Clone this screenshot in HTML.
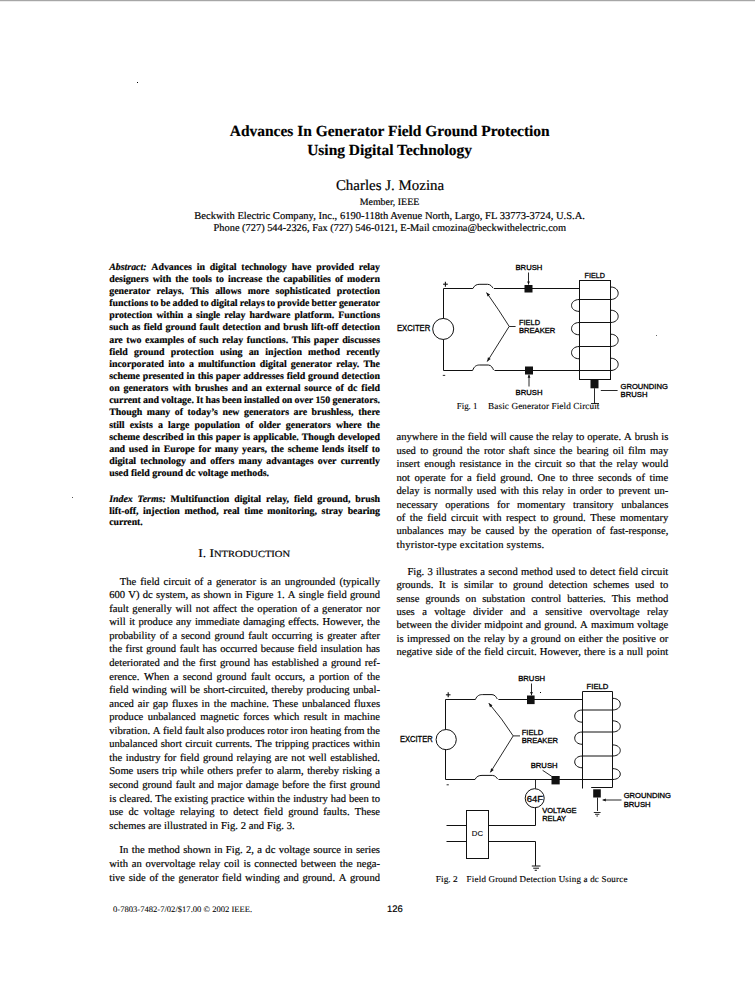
<!DOCTYPE html>
<html><head><meta charset="utf-8"><title>Advances In Generator Field Ground Protection</title>
<style>
html,body{margin:0;padding:0;background:#fff;}
body{width:755px;height:1000px;overflow:hidden;position:relative;}
svg{position:absolute;left:0;top:0;}
</style></head><body>
<svg width="755" height="1000" viewBox="0 0 755 1000">
<rect x="0" y="0" width="755" height="1000" fill="#fff"/>
<g fill="#000" stroke="#000" stroke-width="0.18" style="text-rendering:geometricPrecision">
<rect x="0" y="0" width="755" height="1" fill="#a6a6a6" stroke="none"/><rect x="0" y="1" width="755" height="0.5" fill="#d8d8d8" stroke="none"/>
<text x="229.80" y="135.90" style="font-family:&quot;Liberation Serif&quot;,serif;font-size:15.4px;font-weight:bold" textLength="319.90" lengthAdjust="spacingAndGlyphs">Advances In Generator Field Ground Protection</text>
<text x="307.20" y="154.70" style="font-family:&quot;Liberation Serif&quot;,serif;font-size:15.4px;font-weight:bold" textLength="164.80" lengthAdjust="spacingAndGlyphs">Using Digital Technology</text>
<text x="335.90" y="189.90" style="font-family:&quot;Liberation Serif&quot;,serif;font-size:14.9px" textLength="108.30" lengthAdjust="spacingAndGlyphs">Charles J. Mozina</text>
<text x="359.70" y="204.80" style="font-family:&quot;Liberation Serif&quot;,serif;font-size:9.9px" textLength="59.60" lengthAdjust="spacingAndGlyphs">Member, IEEE</text>
<text x="194.30" y="219.00" style="font-family:&quot;Liberation Serif&quot;,serif;font-size:10.5px" textLength="390.70" lengthAdjust="spacingAndGlyphs">Beckwith Electric Company, Inc., 6190-118th Avenue North, Largo, FL 33773-3724, U.S.A.</text>
<text x="213.60" y="231.20" style="font-family:&quot;Liberation Serif&quot;,serif;font-size:10.4px" textLength="352.40" lengthAdjust="spacingAndGlyphs">Phone (727) 544-2326, Fax (727) 546-0121, E-Mail cmozina@beckwithelectric.com</text>
<text x="109.20" y="269.70" style="font-family:&quot;Liberation Serif&quot;,serif;font-size:9.9px;font-weight:bold;font-style:italic">Abstract:</text>
<text x="151.32" y="269.70" style="font-family:&quot;Liberation Serif&quot;,serif;font-size:9.9px;font-weight:bold">Advances</text>
<text x="196.73" y="269.70" style="font-family:&quot;Liberation Serif&quot;,serif;font-size:9.9px;font-weight:bold">in</text>
<text x="209.70" y="269.70" style="font-family:&quot;Liberation Serif&quot;,serif;font-size:9.9px;font-weight:bold">digital</text>
<text x="241.37" y="269.70" style="font-family:&quot;Liberation Serif&quot;,serif;font-size:9.9px;font-weight:bold">technology</text>
<text x="291.73" y="269.70" style="font-family:&quot;Liberation Serif&quot;,serif;font-size:9.9px;font-weight:bold">have</text>
<text x="316.25" y="269.70" style="font-family:&quot;Liberation Serif&quot;,serif;font-size:9.9px;font-weight:bold">provided</text>
<text x="380.00" y="269.70" style="font-family:&quot;Liberation Serif&quot;,serif;font-size:9.9px;font-weight:bold" text-anchor="end">relay</text>
<text x="109.20" y="281.84" style="font-family:&quot;Liberation Serif&quot;,serif;font-size:9.9px;font-weight:bold">designers</text>
<text x="152.63" y="281.84" style="font-family:&quot;Liberation Serif&quot;,serif;font-size:9.9px;font-weight:bold">with</text>
<text x="175.17" y="281.84" style="font-family:&quot;Liberation Serif&quot;,serif;font-size:9.9px;font-weight:bold">the</text>
<text x="192.20" y="281.84" style="font-family:&quot;Liberation Serif&quot;,serif;font-size:9.9px;font-weight:bold">tools</text>
<text x="215.84" y="281.84" style="font-family:&quot;Liberation Serif&quot;,serif;font-size:9.9px;font-weight:bold">to</text>
<text x="227.92" y="281.84" style="font-family:&quot;Liberation Serif&quot;,serif;font-size:9.9px;font-weight:bold">increase</text>
<text x="266.21" y="281.84" style="font-family:&quot;Liberation Serif&quot;,serif;font-size:9.9px;font-weight:bold">the</text>
<text x="283.24" y="281.84" style="font-family:&quot;Liberation Serif&quot;,serif;font-size:9.9px;font-weight:bold">capabilities</text>
<text x="334.92" y="281.84" style="font-family:&quot;Liberation Serif&quot;,serif;font-size:9.9px;font-weight:bold">of</text>
<text x="380.00" y="281.84" style="font-family:&quot;Liberation Serif&quot;,serif;font-size:9.9px;font-weight:bold" text-anchor="end">modern</text>
<text x="109.20" y="293.98" style="font-family:&quot;Liberation Serif&quot;,serif;font-size:9.9px;font-weight:bold">generator</text>
<text x="156.56" y="293.98" style="font-family:&quot;Liberation Serif&quot;,serif;font-size:9.9px;font-weight:bold">relays.</text>
<text x="190.28" y="293.98" style="font-family:&quot;Liberation Serif&quot;,serif;font-size:9.9px;font-weight:bold">This</text>
<text x="215.13" y="293.98" style="font-family:&quot;Liberation Serif&quot;,serif;font-size:9.9px;font-weight:bold">allows</text>
<text x="247.66" y="293.98" style="font-family:&quot;Liberation Serif&quot;,serif;font-size:9.9px;font-weight:bold">more</text>
<text x="275.60" y="293.98" style="font-family:&quot;Liberation Serif&quot;,serif;font-size:9.9px;font-weight:bold">sophisticated</text>
<text x="380.00" y="293.98" style="font-family:&quot;Liberation Serif&quot;,serif;font-size:9.9px;font-weight:bold" text-anchor="end">protection</text>
<text x="109.20" y="306.12" style="font-family:&quot;Liberation Serif&quot;,serif;font-size:9.9px;font-weight:bold">functions</text>
<text x="150.30" y="306.12" style="font-family:&quot;Liberation Serif&quot;,serif;font-size:9.9px;font-weight:bold">to</text>
<text x="160.58" y="306.12" style="font-family:&quot;Liberation Serif&quot;,serif;font-size:9.9px;font-weight:bold">be</text>
<text x="172.52" y="306.12" style="font-family:&quot;Liberation Serif&quot;,serif;font-size:9.9px;font-weight:bold">added</text>
<text x="200.42" y="306.12" style="font-family:&quot;Liberation Serif&quot;,serif;font-size:9.9px;font-weight:bold">to</text>
<text x="210.71" y="306.12" style="font-family:&quot;Liberation Serif&quot;,serif;font-size:9.9px;font-weight:bold">digital</text>
<text x="239.70" y="306.12" style="font-family:&quot;Liberation Serif&quot;,serif;font-size:9.9px;font-weight:bold">relays</text>
<text x="266.85" y="306.12" style="font-family:&quot;Liberation Serif&quot;,serif;font-size:9.9px;font-weight:bold">to</text>
<text x="277.14" y="306.12" style="font-family:&quot;Liberation Serif&quot;,serif;font-size:9.9px;font-weight:bold">provide</text>
<text x="311.45" y="306.12" style="font-family:&quot;Liberation Serif&quot;,serif;font-size:9.9px;font-weight:bold">better</text>
<text x="380.00" y="306.12" style="font-family:&quot;Liberation Serif&quot;,serif;font-size:9.9px;font-weight:bold" text-anchor="end">generator</text>
<text x="109.20" y="318.26" style="font-family:&quot;Liberation Serif&quot;,serif;font-size:9.9px;font-weight:bold">protection</text>
<text x="156.38" y="318.26" style="font-family:&quot;Liberation Serif&quot;,serif;font-size:9.9px;font-weight:bold">within</text>
<text x="187.26" y="318.26" style="font-family:&quot;Liberation Serif&quot;,serif;font-size:9.9px;font-weight:bold">a</text>
<text x="196.12" y="318.26" style="font-family:&quot;Liberation Serif&quot;,serif;font-size:9.9px;font-weight:bold">single</text>
<text x="224.25" y="318.26" style="font-family:&quot;Liberation Serif&quot;,serif;font-size:9.9px;font-weight:bold">relay</text>
<text x="249.42" y="318.26" style="font-family:&quot;Liberation Serif&quot;,serif;font-size:9.9px;font-weight:bold">hardware</text>
<text x="294.41" y="318.26" style="font-family:&quot;Liberation Serif&quot;,serif;font-size:9.9px;font-weight:bold">platform.</text>
<text x="380.00" y="318.26" style="font-family:&quot;Liberation Serif&quot;,serif;font-size:9.9px;font-weight:bold" text-anchor="end">Functions</text>
<text x="109.20" y="330.40" style="font-family:&quot;Liberation Serif&quot;,serif;font-size:9.9px;font-weight:bold">such</text>
<text x="131.68" y="330.40" style="font-family:&quot;Liberation Serif&quot;,serif;font-size:9.9px;font-weight:bold">as</text>
<text x="143.70" y="330.40" style="font-family:&quot;Liberation Serif&quot;,serif;font-size:9.9px;font-weight:bold">field</text>
<text x="165.62" y="330.40" style="font-family:&quot;Liberation Serif&quot;,serif;font-size:9.9px;font-weight:bold">ground</text>
<text x="199.47" y="330.40" style="font-family:&quot;Liberation Serif&quot;,serif;font-size:9.9px;font-weight:bold">fault</text>
<text x="222.49" y="330.40" style="font-family:&quot;Liberation Serif&quot;,serif;font-size:9.9px;font-weight:bold">detection</text>
<text x="264.19" y="330.40" style="font-family:&quot;Liberation Serif&quot;,serif;font-size:9.9px;font-weight:bold">and</text>
<text x="283.37" y="330.40" style="font-family:&quot;Liberation Serif&quot;,serif;font-size:9.9px;font-weight:bold">brush</text>
<text x="311.36" y="330.40" style="font-family:&quot;Liberation Serif&quot;,serif;font-size:9.9px;font-weight:bold">lift-off</text>
<text x="380.00" y="330.40" style="font-family:&quot;Liberation Serif&quot;,serif;font-size:9.9px;font-weight:bold" text-anchor="end">detection</text>
<text x="109.20" y="342.54" style="font-family:&quot;Liberation Serif&quot;,serif;font-size:9.9px;font-weight:bold">are</text>
<text x="126.21" y="342.54" style="font-family:&quot;Liberation Serif&quot;,serif;font-size:9.9px;font-weight:bold">two</text>
<text x="145.06" y="342.54" style="font-family:&quot;Liberation Serif&quot;,serif;font-size:9.9px;font-weight:bold">examples</text>
<text x="187.56" y="342.54" style="font-family:&quot;Liberation Serif&quot;,serif;font-size:9.9px;font-weight:bold">of</text>
<text x="199.26" y="342.54" style="font-family:&quot;Liberation Serif&quot;,serif;font-size:9.9px;font-weight:bold">such</text>
<text x="221.97" y="342.54" style="font-family:&quot;Liberation Serif&quot;,serif;font-size:9.9px;font-weight:bold">relay</text>
<text x="246.68" y="342.54" style="font-family:&quot;Liberation Serif&quot;,serif;font-size:9.9px;font-weight:bold">functions.</text>
<text x="291.67" y="342.54" style="font-family:&quot;Liberation Serif&quot;,serif;font-size:9.9px;font-weight:bold">This</text>
<text x="313.84" y="342.54" style="font-family:&quot;Liberation Serif&quot;,serif;font-size:9.9px;font-weight:bold">paper</text>
<text x="380.00" y="342.54" style="font-family:&quot;Liberation Serif&quot;,serif;font-size:9.9px;font-weight:bold" text-anchor="end">discusses</text>
<text x="109.20" y="354.68" style="font-family:&quot;Liberation Serif&quot;,serif;font-size:9.9px;font-weight:bold">field</text>
<text x="133.98" y="354.68" style="font-family:&quot;Liberation Serif&quot;,serif;font-size:9.9px;font-weight:bold">ground</text>
<text x="170.69" y="354.68" style="font-family:&quot;Liberation Serif&quot;,serif;font-size:9.9px;font-weight:bold">protection</text>
<text x="220.02" y="354.68" style="font-family:&quot;Liberation Serif&quot;,serif;font-size:9.9px;font-weight:bold">using</text>
<text x="248.67" y="354.68" style="font-family:&quot;Liberation Serif&quot;,serif;font-size:9.9px;font-weight:bold">an</text>
<text x="265.20" y="354.68" style="font-family:&quot;Liberation Serif&quot;,serif;font-size:9.9px;font-weight:bold">injection</text>
<text x="308.12" y="354.68" style="font-family:&quot;Liberation Serif&quot;,serif;font-size:9.9px;font-weight:bold">method</text>
<text x="380.00" y="354.68" style="font-family:&quot;Liberation Serif&quot;,serif;font-size:9.9px;font-weight:bold" text-anchor="end">recently</text>
<text x="109.20" y="366.82" style="font-family:&quot;Liberation Serif&quot;,serif;font-size:9.9px;font-weight:bold">incorporated</text>
<text x="168.29" y="366.82" style="font-family:&quot;Liberation Serif&quot;,serif;font-size:9.9px;font-weight:bold">into</text>
<text x="188.90" y="366.82" style="font-family:&quot;Liberation Serif&quot;,serif;font-size:9.9px;font-weight:bold">a</text>
<text x="197.95" y="366.82" style="font-family:&quot;Liberation Serif&quot;,serif;font-size:9.9px;font-weight:bold">multifunction</text>
<text x="259.81" y="366.82" style="font-family:&quot;Liberation Serif&quot;,serif;font-size:9.9px;font-weight:bold">digital</text>
<text x="290.87" y="366.82" style="font-family:&quot;Liberation Serif&quot;,serif;font-size:9.9px;font-weight:bold">generator</text>
<text x="336.20" y="366.82" style="font-family:&quot;Liberation Serif&quot;,serif;font-size:9.9px;font-weight:bold">relay.</text>
<text x="380.00" y="366.82" style="font-family:&quot;Liberation Serif&quot;,serif;font-size:9.9px;font-weight:bold" text-anchor="end">The</text>
<text x="109.20" y="378.96" style="font-family:&quot;Liberation Serif&quot;,serif;font-size:9.9px;font-weight:bold">scheme</text>
<text x="142.76" y="378.96" style="font-family:&quot;Liberation Serif&quot;,serif;font-size:9.9px;font-weight:bold">presented</text>
<text x="186.60" y="378.96" style="font-family:&quot;Liberation Serif&quot;,serif;font-size:9.9px;font-weight:bold">in</text>
<text x="197.63" y="378.96" style="font-family:&quot;Liberation Serif&quot;,serif;font-size:9.9px;font-weight:bold">this</text>
<text x="215.81" y="378.96" style="font-family:&quot;Liberation Serif&quot;,serif;font-size:9.9px;font-weight:bold">paper</text>
<text x="243.34" y="378.96" style="font-family:&quot;Liberation Serif&quot;,serif;font-size:9.9px;font-weight:bold">addresses</text>
<text x="286.63" y="378.96" style="font-family:&quot;Liberation Serif&quot;,serif;font-size:9.9px;font-weight:bold">field</text>
<text x="308.10" y="378.96" style="font-family:&quot;Liberation Serif&quot;,serif;font-size:9.9px;font-weight:bold">ground</text>
<text x="380.00" y="378.96" style="font-family:&quot;Liberation Serif&quot;,serif;font-size:9.9px;font-weight:bold" text-anchor="end">detection</text>
<text x="109.20" y="391.10" style="font-family:&quot;Liberation Serif&quot;,serif;font-size:9.9px;font-weight:bold">on</text>
<text x="123.49" y="391.10" style="font-family:&quot;Liberation Serif&quot;,serif;font-size:9.9px;font-weight:bold">generators</text>
<text x="172.41" y="391.10" style="font-family:&quot;Liberation Serif&quot;,serif;font-size:9.9px;font-weight:bold">with</text>
<text x="194.94" y="391.10" style="font-family:&quot;Liberation Serif&quot;,serif;font-size:9.9px;font-weight:bold">brushes</text>
<text x="231.79" y="391.10" style="font-family:&quot;Liberation Serif&quot;,serif;font-size:9.9px;font-weight:bold">and</text>
<text x="251.58" y="391.10" style="font-family:&quot;Liberation Serif&quot;,serif;font-size:9.9px;font-weight:bold">an</text>
<text x="265.87" y="391.10" style="font-family:&quot;Liberation Serif&quot;,serif;font-size:9.9px;font-weight:bold">external</text>
<text x="304.34" y="391.10" style="font-family:&quot;Liberation Serif&quot;,serif;font-size:9.9px;font-weight:bold">source</text>
<text x="335.49" y="391.10" style="font-family:&quot;Liberation Serif&quot;,serif;font-size:9.9px;font-weight:bold">of</text>
<text x="347.57" y="391.10" style="font-family:&quot;Liberation Serif&quot;,serif;font-size:9.9px;font-weight:bold">dc</text>
<text x="380.00" y="391.10" style="font-family:&quot;Liberation Serif&quot;,serif;font-size:9.9px;font-weight:bold" text-anchor="end">field</text>
<text x="109.20" y="403.24" style="font-family:&quot;Liberation Serif&quot;,serif;font-size:9.9px;font-weight:bold">current</text>
<text x="143.09" y="403.24" style="font-family:&quot;Liberation Serif&quot;,serif;font-size:9.9px;font-weight:bold">and</text>
<text x="161.24" y="403.24" style="font-family:&quot;Liberation Serif&quot;,serif;font-size:9.9px;font-weight:bold">voltage.</text>
<text x="196.14" y="403.24" style="font-family:&quot;Liberation Serif&quot;,serif;font-size:9.9px;font-weight:bold">It</text>
<text x="205.47" y="403.24" style="font-family:&quot;Liberation Serif&quot;,serif;font-size:9.9px;font-weight:bold">has</text>
<text x="221.97" y="403.24" style="font-family:&quot;Liberation Serif&quot;,serif;font-size:9.9px;font-weight:bold">been</text>
<text x="243.95" y="403.24" style="font-family:&quot;Liberation Serif&quot;,serif;font-size:9.9px;font-weight:bold">installed</text>
<text x="281.89" y="403.24" style="font-family:&quot;Liberation Serif&quot;,serif;font-size:9.9px;font-weight:bold">on</text>
<text x="294.54" y="403.24" style="font-family:&quot;Liberation Serif&quot;,serif;font-size:9.9px;font-weight:bold">over</text>
<text x="315.41" y="403.24" style="font-family:&quot;Liberation Serif&quot;,serif;font-size:9.9px;font-weight:bold">150</text>
<text x="380.00" y="403.24" style="font-family:&quot;Liberation Serif&quot;,serif;font-size:9.9px;font-weight:bold" text-anchor="end">generators.</text>
<text x="109.20" y="415.38" style="font-family:&quot;Liberation Serif&quot;,serif;font-size:9.9px;font-weight:bold">Though</text>
<text x="146.70" y="415.38" style="font-family:&quot;Liberation Serif&quot;,serif;font-size:9.9px;font-weight:bold">many</text>
<text x="174.84" y="415.38" style="font-family:&quot;Liberation Serif&quot;,serif;font-size:9.9px;font-weight:bold">of</text>
<text x="187.57" y="415.38" style="font-family:&quot;Liberation Serif&quot;,serif;font-size:9.9px;font-weight:bold">today’s</text>
<text x="222.48" y="415.38" style="font-family:&quot;Liberation Serif&quot;,serif;font-size:9.9px;font-weight:bold">new</text>
<text x="244.02" y="415.38" style="font-family:&quot;Liberation Serif&quot;,serif;font-size:9.9px;font-weight:bold">generators</text>
<text x="293.58" y="415.38" style="font-family:&quot;Liberation Serif&quot;,serif;font-size:9.9px;font-weight:bold">are</text>
<text x="311.62" y="415.38" style="font-family:&quot;Liberation Serif&quot;,serif;font-size:9.9px;font-weight:bold">brushless,</text>
<text x="380.00" y="415.38" style="font-family:&quot;Liberation Serif&quot;,serif;font-size:9.9px;font-weight:bold" text-anchor="end">there</text>
<text x="109.20" y="427.52" style="font-family:&quot;Liberation Serif&quot;,serif;font-size:9.9px;font-weight:bold">still</text>
<text x="129.72" y="427.52" style="font-family:&quot;Liberation Serif&quot;,serif;font-size:9.9px;font-weight:bold">exists</text>
<text x="157.93" y="427.52" style="font-family:&quot;Liberation Serif&quot;,serif;font-size:9.9px;font-weight:bold">a</text>
<text x="168.00" y="427.52" style="font-family:&quot;Liberation Serif&quot;,serif;font-size:9.9px;font-weight:bold">large</text>
<text x="194.56" y="427.52" style="font-family:&quot;Liberation Serif&quot;,serif;font-size:9.9px;font-weight:bold">population</text>
<text x="245.35" y="427.52" style="font-family:&quot;Liberation Serif&quot;,serif;font-size:9.9px;font-weight:bold">of</text>
<text x="258.71" y="427.52" style="font-family:&quot;Liberation Serif&quot;,serif;font-size:9.9px;font-weight:bold">older</text>
<text x="285.83" y="427.52" style="font-family:&quot;Liberation Serif&quot;,serif;font-size:9.9px;font-weight:bold">generators</text>
<text x="336.03" y="427.52" style="font-family:&quot;Liberation Serif&quot;,serif;font-size:9.9px;font-weight:bold">where</text>
<text x="380.00" y="427.52" style="font-family:&quot;Liberation Serif&quot;,serif;font-size:9.9px;font-weight:bold" text-anchor="end">the</text>
<text x="109.20" y="439.66" style="font-family:&quot;Liberation Serif&quot;,serif;font-size:9.9px;font-weight:bold">scheme</text>
<text x="142.86" y="439.66" style="font-family:&quot;Liberation Serif&quot;,serif;font-size:9.9px;font-weight:bold">described</text>
<text x="186.43" y="439.66" style="font-family:&quot;Liberation Serif&quot;,serif;font-size:9.9px;font-weight:bold">in</text>
<text x="197.56" y="439.66" style="font-family:&quot;Liberation Serif&quot;,serif;font-size:9.9px;font-weight:bold">this</text>
<text x="215.84" y="439.66" style="font-family:&quot;Liberation Serif&quot;,serif;font-size:9.9px;font-weight:bold">paper</text>
<text x="243.47" y="439.66" style="font-family:&quot;Liberation Serif&quot;,serif;font-size:9.9px;font-weight:bold">is</text>
<text x="252.95" y="439.66" style="font-family:&quot;Liberation Serif&quot;,serif;font-size:9.9px;font-weight:bold">applicable.</text>
<text x="301.75" y="439.66" style="font-family:&quot;Liberation Serif&quot;,serif;font-size:9.9px;font-weight:bold">Though</text>
<text x="380.00" y="439.66" style="font-family:&quot;Liberation Serif&quot;,serif;font-size:9.9px;font-weight:bold" text-anchor="end">developed</text>
<text x="109.20" y="451.80" style="font-family:&quot;Liberation Serif&quot;,serif;font-size:9.9px;font-weight:bold">and</text>
<text x="128.82" y="451.80" style="font-family:&quot;Liberation Serif&quot;,serif;font-size:9.9px;font-weight:bold">used</text>
<text x="151.74" y="451.80" style="font-family:&quot;Liberation Serif&quot;,serif;font-size:9.9px;font-weight:bold">in</text>
<text x="163.66" y="451.80" style="font-family:&quot;Liberation Serif&quot;,serif;font-size:9.9px;font-weight:bold">Europe</text>
<text x="198.49" y="451.80" style="font-family:&quot;Liberation Serif&quot;,serif;font-size:9.9px;font-weight:bold">for</text>
<text x="214.79" y="451.80" style="font-family:&quot;Liberation Serif&quot;,serif;font-size:9.9px;font-weight:bold">many</text>
<text x="242.10" y="451.80" style="font-family:&quot;Liberation Serif&quot;,serif;font-size:9.9px;font-weight:bold">years,</text>
<text x="270.78" y="451.80" style="font-family:&quot;Liberation Serif&quot;,serif;font-size:9.9px;font-weight:bold">the</text>
<text x="287.64" y="451.80" style="font-family:&quot;Liberation Serif&quot;,serif;font-size:9.9px;font-weight:bold">scheme</text>
<text x="322.08" y="451.80" style="font-family:&quot;Liberation Serif&quot;,serif;font-size:9.9px;font-weight:bold">lends</text>
<text x="347.75" y="451.80" style="font-family:&quot;Liberation Serif&quot;,serif;font-size:9.9px;font-weight:bold">itself</text>
<text x="380.00" y="451.80" style="font-family:&quot;Liberation Serif&quot;,serif;font-size:9.9px;font-weight:bold" text-anchor="end">to</text>
<text x="109.20" y="463.94" style="font-family:&quot;Liberation Serif&quot;,serif;font-size:9.9px;font-weight:bold">digital</text>
<text x="140.30" y="463.94" style="font-family:&quot;Liberation Serif&quot;,serif;font-size:9.9px;font-weight:bold">technology</text>
<text x="190.09" y="463.94" style="font-family:&quot;Liberation Serif&quot;,serif;font-size:9.9px;font-weight:bold">and</text>
<text x="210.19" y="463.94" style="font-family:&quot;Liberation Serif&quot;,serif;font-size:9.9px;font-weight:bold">offers</text>
<text x="238.52" y="463.94" style="font-family:&quot;Liberation Serif&quot;,serif;font-size:9.9px;font-weight:bold">many</text>
<text x="266.31" y="463.94" style="font-family:&quot;Liberation Serif&quot;,serif;font-size:9.9px;font-weight:bold">advantages</text>
<text x="317.76" y="463.94" style="font-family:&quot;Liberation Serif&quot;,serif;font-size:9.9px;font-weight:bold">over</text>
<text x="380.00" y="463.94" style="font-family:&quot;Liberation Serif&quot;,serif;font-size:9.9px;font-weight:bold" text-anchor="end">currently</text>
<text x="109.20" y="476.08" style="font-family:&quot;Liberation Serif&quot;,serif;font-size:9.9px;font-weight:bold" textLength="159.80" lengthAdjust="spacing">used field ground dc voltage methods.</text>
<text x="109.20" y="501.60" style="font-family:&quot;Liberation Serif&quot;,serif;font-size:9.9px;font-weight:bold;font-style:italic">Index</text>
<text x="137.62" y="501.60" style="font-family:&quot;Liberation Serif&quot;,serif;font-size:9.9px;font-weight:bold;font-style:italic">Terms:</text>
<text x="170.61" y="501.60" style="font-family:&quot;Liberation Serif&quot;,serif;font-size:9.9px;font-weight:bold">Multifunction</text>
<text x="234.23" y="501.60" style="font-family:&quot;Liberation Serif&quot;,serif;font-size:9.9px;font-weight:bold">digital</text>
<text x="265.95" y="501.60" style="font-family:&quot;Liberation Serif&quot;,serif;font-size:9.9px;font-weight:bold">relay,</text>
<text x="293.90" y="501.60" style="font-family:&quot;Liberation Serif&quot;,serif;font-size:9.9px;font-weight:bold">field</text>
<text x="317.36" y="501.60" style="font-family:&quot;Liberation Serif&quot;,serif;font-size:9.9px;font-weight:bold">ground,</text>
<text x="380.00" y="501.60" style="font-family:&quot;Liberation Serif&quot;,serif;font-size:9.9px;font-weight:bold" text-anchor="end">brush</text>
<text x="109.20" y="513.50" style="font-family:&quot;Liberation Serif&quot;,serif;font-size:9.9px;font-weight:bold">lift-off,</text>
<text x="143.11" y="513.50" style="font-family:&quot;Liberation Serif&quot;,serif;font-size:9.9px;font-weight:bold">injection</text>
<text x="184.46" y="513.50" style="font-family:&quot;Liberation Serif&quot;,serif;font-size:9.9px;font-weight:bold">method,</text>
<text x="223.33" y="513.50" style="font-family:&quot;Liberation Serif&quot;,serif;font-size:9.9px;font-weight:bold">real</text>
<text x="244.14" y="513.50" style="font-family:&quot;Liberation Serif&quot;,serif;font-size:9.9px;font-weight:bold">time</text>
<text x="267.33" y="513.50" style="font-family:&quot;Liberation Serif&quot;,serif;font-size:9.9px;font-weight:bold">monitoring,</text>
<text x="321.61" y="513.50" style="font-family:&quot;Liberation Serif&quot;,serif;font-size:9.9px;font-weight:bold">stray</text>
<text x="380.00" y="513.50" style="font-family:&quot;Liberation Serif&quot;,serif;font-size:9.9px;font-weight:bold" text-anchor="end">bearing</text>
<text x="109.20" y="525.40" style="font-family:&quot;Liberation Serif&quot;,serif;font-size:9.9px;font-weight:bold" textLength="33.60" lengthAdjust="spacingAndGlyphs">current.</text>
<text x="198.3" y="556.6" textLength="91.8" lengthAdjust="spacingAndGlyphs" style="font-family:&quot;Liberation Serif&quot;,serif;font-size:12px">I. I<tspan style="font-size:9.4px">NTRODUCTION</tspan></text>
<text x="119.80" y="584.60" style="font-family:&quot;Liberation Serif&quot;,serif;font-size:10.6px">The</text>
<text x="140.21" y="584.60" style="font-family:&quot;Liberation Serif&quot;,serif;font-size:10.6px">field</text>
<text x="163.56" y="584.60" style="font-family:&quot;Liberation Serif&quot;,serif;font-size:10.6px">circuit</text>
<text x="194.56" y="584.60" style="font-family:&quot;Liberation Serif&quot;,serif;font-size:10.6px">of</text>
<text x="207.31" y="584.60" style="font-family:&quot;Liberation Serif&quot;,serif;font-size:10.6px">a</text>
<text x="215.95" y="584.60" style="font-family:&quot;Liberation Serif&quot;,serif;font-size:10.6px">generator</text>
<text x="259.89" y="584.60" style="font-family:&quot;Liberation Serif&quot;,serif;font-size:10.6px">is</text>
<text x="270.89" y="584.60" style="font-family:&quot;Liberation Serif&quot;,serif;font-size:10.6px">an</text>
<text x="284.82" y="584.60" style="font-family:&quot;Liberation Serif&quot;,serif;font-size:10.6px">ungrounded</text>
<text x="380.00" y="584.60" style="font-family:&quot;Liberation Serif&quot;,serif;font-size:10.6px" text-anchor="end">(typically</text>
<text x="109.20" y="598.16" style="font-family:&quot;Liberation Serif&quot;,serif;font-size:10.6px">600</text>
<text x="128.33" y="598.16" style="font-family:&quot;Liberation Serif&quot;,serif;font-size:10.6px">V)</text>
<text x="142.75" y="598.16" style="font-family:&quot;Liberation Serif&quot;,serif;font-size:10.6px">dc</text>
<text x="155.99" y="598.16" style="font-family:&quot;Liberation Serif&quot;,serif;font-size:10.6px">system,</text>
<text x="191.32" y="598.16" style="font-family:&quot;Liberation Serif&quot;,serif;font-size:10.6px">as</text>
<text x="203.38" y="598.16" style="font-family:&quot;Liberation Serif&quot;,serif;font-size:10.6px">shown</text>
<text x="234.30" y="598.16" style="font-family:&quot;Liberation Serif&quot;,serif;font-size:10.6px">in</text>
<text x="245.78" y="598.16" style="font-family:&quot;Liberation Serif&quot;,serif;font-size:10.6px">Figure</text>
<text x="276.69" y="598.16" style="font-family:&quot;Liberation Serif&quot;,serif;font-size:10.6px">1.</text>
<text x="287.87" y="598.16" style="font-family:&quot;Liberation Serif&quot;,serif;font-size:10.6px">A</text>
<text x="298.76" y="598.16" style="font-family:&quot;Liberation Serif&quot;,serif;font-size:10.6px">single</text>
<text x="327.31" y="598.16" style="font-family:&quot;Liberation Serif&quot;,serif;font-size:10.6px">field</text>
<text x="380.00" y="598.16" style="font-family:&quot;Liberation Serif&quot;,serif;font-size:10.6px" text-anchor="end">ground</text>
<text x="109.20" y="611.72" style="font-family:&quot;Liberation Serif&quot;,serif;font-size:10.6px">fault</text>
<text x="132.36" y="611.72" style="font-family:&quot;Liberation Serif&quot;,serif;font-size:10.6px">generally</text>
<text x="175.52" y="611.72" style="font-family:&quot;Liberation Serif&quot;,serif;font-size:10.6px">will</text>
<text x="195.74" y="611.72" style="font-family:&quot;Liberation Serif&quot;,serif;font-size:10.6px">not</text>
<text x="213.02" y="611.72" style="font-family:&quot;Liberation Serif&quot;,serif;font-size:10.6px">affect</text>
<text x="240.68" y="611.72" style="font-family:&quot;Liberation Serif&quot;,serif;font-size:10.6px">the</text>
<text x="257.36" y="611.72" style="font-family:&quot;Liberation Serif&quot;,serif;font-size:10.6px">operation</text>
<text x="301.12" y="611.72" style="font-family:&quot;Liberation Serif&quot;,serif;font-size:10.6px">of</text>
<text x="313.68" y="611.72" style="font-family:&quot;Liberation Serif&quot;,serif;font-size:10.6px">a</text>
<text x="322.12" y="611.72" style="font-family:&quot;Liberation Serif&quot;,serif;font-size:10.6px">generator</text>
<text x="380.00" y="611.72" style="font-family:&quot;Liberation Serif&quot;,serif;font-size:10.6px" text-anchor="end">nor</text>
<text x="109.20" y="625.28" style="font-family:&quot;Liberation Serif&quot;,serif;font-size:10.6px">will</text>
<text x="129.15" y="625.28" style="font-family:&quot;Liberation Serif&quot;,serif;font-size:10.6px">it</text>
<text x="138.51" y="625.28" style="font-family:&quot;Liberation Serif&quot;,serif;font-size:10.6px">produce</text>
<text x="176.11" y="625.28" style="font-family:&quot;Liberation Serif&quot;,serif;font-size:10.6px">any</text>
<text x="194.88" y="625.28" style="font-family:&quot;Liberation Serif&quot;,serif;font-size:10.6px">immediate</text>
<text x="243.08" y="625.28" style="font-family:&quot;Liberation Serif&quot;,serif;font-size:10.6px">damaging</text>
<text x="288.34" y="625.28" style="font-family:&quot;Liberation Serif&quot;,serif;font-size:10.6px">effects.</text>
<text x="322.51" y="625.28" style="font-family:&quot;Liberation Serif&quot;,serif;font-size:10.6px">However,</text>
<text x="380.00" y="625.28" style="font-family:&quot;Liberation Serif&quot;,serif;font-size:10.6px" text-anchor="end">the</text>
<text x="109.20" y="638.84" style="font-family:&quot;Liberation Serif&quot;,serif;font-size:10.6px">probability</text>
<text x="159.64" y="638.84" style="font-family:&quot;Liberation Serif&quot;,serif;font-size:10.6px">of</text>
<text x="172.40" y="638.84" style="font-family:&quot;Liberation Serif&quot;,serif;font-size:10.6px">a</text>
<text x="181.03" y="638.84" style="font-family:&quot;Liberation Serif&quot;,serif;font-size:10.6px">second</text>
<text x="214.39" y="638.84" style="font-family:&quot;Liberation Serif&quot;,serif;font-size:10.6px">ground</text>
<text x="248.35" y="638.84" style="font-family:&quot;Liberation Serif&quot;,serif;font-size:10.6px">fault</text>
<text x="271.70" y="638.84" style="font-family:&quot;Liberation Serif&quot;,serif;font-size:10.6px">occurring</text>
<text x="316.24" y="638.84" style="font-family:&quot;Liberation Serif&quot;,serif;font-size:10.6px">is</text>
<text x="327.24" y="638.84" style="font-family:&quot;Liberation Serif&quot;,serif;font-size:10.6px">greater</text>
<text x="380.00" y="638.84" style="font-family:&quot;Liberation Serif&quot;,serif;font-size:10.6px" text-anchor="end">after</text>
<text x="109.20" y="652.40" style="font-family:&quot;Liberation Serif&quot;,serif;font-size:10.6px">the</text>
<text x="125.62" y="652.40" style="font-family:&quot;Liberation Serif&quot;,serif;font-size:10.6px">first</text>
<text x="146.16" y="652.40" style="font-family:&quot;Liberation Serif&quot;,serif;font-size:10.6px">ground</text>
<text x="179.66" y="652.40" style="font-family:&quot;Liberation Serif&quot;,serif;font-size:10.6px">fault</text>
<text x="202.55" y="652.40" style="font-family:&quot;Liberation Serif&quot;,serif;font-size:10.6px">has</text>
<text x="220.15" y="652.40" style="font-family:&quot;Liberation Serif&quot;,serif;font-size:10.6px">occurred</text>
<text x="260.69" y="652.40" style="font-family:&quot;Liberation Serif&quot;,serif;font-size:10.6px">because</text>
<text x="297.70" y="652.40" style="font-family:&quot;Liberation Serif&quot;,serif;font-size:10.6px">field</text>
<text x="320.59" y="652.40" style="font-family:&quot;Liberation Serif&quot;,serif;font-size:10.6px">insulation</text>
<text x="380.00" y="652.40" style="font-family:&quot;Liberation Serif&quot;,serif;font-size:10.6px" text-anchor="end">has</text>
<text x="109.20" y="665.96" style="font-family:&quot;Liberation Serif&quot;,serif;font-size:10.6px">deteriorated</text>
<text x="163.54" y="665.96" style="font-family:&quot;Liberation Serif&quot;,serif;font-size:10.6px">and</text>
<text x="182.58" y="665.96" style="font-family:&quot;Liberation Serif&quot;,serif;font-size:10.6px">the</text>
<text x="199.26" y="665.96" style="font-family:&quot;Liberation Serif&quot;,serif;font-size:10.6px">first</text>
<text x="220.06" y="665.96" style="font-family:&quot;Liberation Serif&quot;,serif;font-size:10.6px">ground</text>
<text x="253.82" y="665.96" style="font-family:&quot;Liberation Serif&quot;,serif;font-size:10.6px">has</text>
<text x="271.68" y="665.96" style="font-family:&quot;Liberation Serif&quot;,serif;font-size:10.6px">established</text>
<text x="322.51" y="665.96" style="font-family:&quot;Liberation Serif&quot;,serif;font-size:10.6px">a</text>
<text x="330.95" y="665.96" style="font-family:&quot;Liberation Serif&quot;,serif;font-size:10.6px">ground</text>
<text x="380.00" y="665.96" style="font-family:&quot;Liberation Serif&quot;,serif;font-size:10.6px" text-anchor="end">ref-</text>
<text x="109.20" y="679.52" style="font-family:&quot;Liberation Serif&quot;,serif;font-size:10.6px">erence.</text>
<text x="143.92" y="679.52" style="font-family:&quot;Liberation Serif&quot;,serif;font-size:10.6px">When</text>
<text x="173.64" y="679.52" style="font-family:&quot;Liberation Serif&quot;,serif;font-size:10.6px">a</text>
<text x="182.77" y="679.52" style="font-family:&quot;Liberation Serif&quot;,serif;font-size:10.6px">second</text>
<text x="216.62" y="679.52" style="font-family:&quot;Liberation Serif&quot;,serif;font-size:10.6px">ground</text>
<text x="251.07" y="679.52" style="font-family:&quot;Liberation Serif&quot;,serif;font-size:10.6px">fault</text>
<text x="274.91" y="679.52" style="font-family:&quot;Liberation Serif&quot;,serif;font-size:10.6px">occurs,</text>
<text x="309.64" y="679.52" style="font-family:&quot;Liberation Serif&quot;,serif;font-size:10.6px">a</text>
<text x="318.76" y="679.52" style="font-family:&quot;Liberation Serif&quot;,serif;font-size:10.6px">portion</text>
<text x="353.80" y="679.52" style="font-family:&quot;Liberation Serif&quot;,serif;font-size:10.6px">of</text>
<text x="380.00" y="679.52" style="font-family:&quot;Liberation Serif&quot;,serif;font-size:10.6px" text-anchor="end">the</text>
<text x="109.20" y="693.08" style="font-family:&quot;Liberation Serif&quot;,serif;font-size:10.6px">field</text>
<text x="132.03" y="693.08" style="font-family:&quot;Liberation Serif&quot;,serif;font-size:10.6px">winding</text>
<text x="170.18" y="693.08" style="font-family:&quot;Liberation Serif&quot;,serif;font-size:10.6px">will</text>
<text x="190.07" y="693.08" style="font-family:&quot;Liberation Serif&quot;,serif;font-size:10.6px">be</text>
<text x="203.48" y="693.08" style="font-family:&quot;Liberation Serif&quot;,serif;font-size:10.6px">short-circuited,</text>
<text x="271.35" y="693.08" style="font-family:&quot;Liberation Serif&quot;,serif;font-size:10.6px">thereby</text>
<text x="306.54" y="693.08" style="font-family:&quot;Liberation Serif&quot;,serif;font-size:10.6px">producing</text>
<text x="380.00" y="693.08" style="font-family:&quot;Liberation Serif&quot;,serif;font-size:10.6px" text-anchor="end">unbal-</text>
<text x="109.20" y="706.64" style="font-family:&quot;Liberation Serif&quot;,serif;font-size:10.6px">anced</text>
<text x="137.74" y="706.64" style="font-family:&quot;Liberation Serif&quot;,serif;font-size:10.6px">air</text>
<text x="152.75" y="706.64" style="font-family:&quot;Liberation Serif&quot;,serif;font-size:10.6px">gap</text>
<text x="171.89" y="706.64" style="font-family:&quot;Liberation Serif&quot;,serif;font-size:10.6px">fluxes</text>
<text x="201.62" y="706.64" style="font-family:&quot;Liberation Serif&quot;,serif;font-size:10.6px">in</text>
<text x="213.70" y="706.64" style="font-family:&quot;Liberation Serif&quot;,serif;font-size:10.6px">the</text>
<text x="230.48" y="706.64" style="font-family:&quot;Liberation Serif&quot;,serif;font-size:10.6px">machine.</text>
<text x="272.86" y="706.64" style="font-family:&quot;Liberation Serif&quot;,serif;font-size:10.6px">These</text>
<text x="302.00" y="706.64" style="font-family:&quot;Liberation Serif&quot;,serif;font-size:10.6px">unbalanced</text>
<text x="380.00" y="706.64" style="font-family:&quot;Liberation Serif&quot;,serif;font-size:10.6px" text-anchor="end">fluxes</text>
<text x="109.20" y="720.20" style="font-family:&quot;Liberation Serif&quot;,serif;font-size:10.6px">produce</text>
<text x="147.63" y="720.20" style="font-family:&quot;Liberation Serif&quot;,serif;font-size:10.6px">unbalanced</text>
<text x="200.19" y="720.20" style="font-family:&quot;Liberation Serif&quot;,serif;font-size:10.6px">magnetic</text>
<text x="243.33" y="720.20" style="font-family:&quot;Liberation Serif&quot;,serif;font-size:10.6px">forces</text>
<text x="273.52" y="720.20" style="font-family:&quot;Liberation Serif&quot;,serif;font-size:10.6px">which</text>
<text x="303.72" y="720.20" style="font-family:&quot;Liberation Serif&quot;,serif;font-size:10.6px">result</text>
<text x="331.56" y="720.20" style="font-family:&quot;Liberation Serif&quot;,serif;font-size:10.6px">in</text>
<text x="380.00" y="720.20" style="font-family:&quot;Liberation Serif&quot;,serif;font-size:10.6px" text-anchor="end">machine</text>
<text x="109.20" y="733.76" style="font-family:&quot;Liberation Serif&quot;,serif;font-size:10.6px">vibration.</text>
<text x="152.68" y="733.76" style="font-family:&quot;Liberation Serif&quot;,serif;font-size:10.6px">A</text>
<text x="162.90" y="733.76" style="font-family:&quot;Liberation Serif&quot;,serif;font-size:10.6px">field</text>
<text x="184.88" y="733.76" style="font-family:&quot;Liberation Serif&quot;,serif;font-size:10.6px">fault</text>
<text x="206.87" y="733.76" style="font-family:&quot;Liberation Serif&quot;,serif;font-size:10.6px">also</text>
<text x="226.50" y="733.76" style="font-family:&quot;Liberation Serif&quot;,serif;font-size:10.6px">produces</text>
<text x="267.32" y="733.76" style="font-family:&quot;Liberation Serif&quot;,serif;font-size:10.6px">rotor</text>
<text x="290.49" y="733.76" style="font-family:&quot;Liberation Serif&quot;,serif;font-size:10.6px">iron</text>
<text x="310.13" y="733.76" style="font-family:&quot;Liberation Serif&quot;,serif;font-size:10.6px">heating</text>
<text x="343.89" y="733.76" style="font-family:&quot;Liberation Serif&quot;,serif;font-size:10.6px">from</text>
<text x="380.00" y="733.76" style="font-family:&quot;Liberation Serif&quot;,serif;font-size:10.6px" text-anchor="end">the</text>
<text x="109.20" y="747.32" style="font-family:&quot;Liberation Serif&quot;,serif;font-size:10.6px">unbalanced</text>
<text x="160.70" y="747.32" style="font-family:&quot;Liberation Serif&quot;,serif;font-size:10.6px">short</text>
<text x="185.14" y="747.32" style="font-family:&quot;Liberation Serif&quot;,serif;font-size:10.6px">circuit</text>
<text x="215.46" y="747.32" style="font-family:&quot;Liberation Serif&quot;,serif;font-size:10.6px">currents.</text>
<text x="255.48" y="747.32" style="font-family:&quot;Liberation Serif&quot;,serif;font-size:10.6px">The</text>
<text x="275.20" y="747.32" style="font-family:&quot;Liberation Serif&quot;,serif;font-size:10.6px">tripping</text>
<text x="312.01" y="747.32" style="font-family:&quot;Liberation Serif&quot;,serif;font-size:10.6px">practices</text>
<text x="380.00" y="747.32" style="font-family:&quot;Liberation Serif&quot;,serif;font-size:10.6px" text-anchor="end">within</text>
<text x="109.20" y="760.88" style="font-family:&quot;Liberation Serif&quot;,serif;font-size:10.6px">the</text>
<text x="125.71" y="760.88" style="font-family:&quot;Liberation Serif&quot;,serif;font-size:10.6px">industry</text>
<text x="164.02" y="760.88" style="font-family:&quot;Liberation Serif&quot;,serif;font-size:10.6px">for</text>
<text x="179.95" y="760.88" style="font-family:&quot;Liberation Serif&quot;,serif;font-size:10.6px">field</text>
<text x="202.94" y="760.88" style="font-family:&quot;Liberation Serif&quot;,serif;font-size:10.6px">ground</text>
<text x="236.53" y="760.88" style="font-family:&quot;Liberation Serif&quot;,serif;font-size:10.6px">relaying</text>
<text x="274.82" y="760.88" style="font-family:&quot;Liberation Serif&quot;,serif;font-size:10.6px">are</text>
<text x="291.33" y="760.88" style="font-family:&quot;Liberation Serif&quot;,serif;font-size:10.6px">not</text>
<text x="308.44" y="760.88" style="font-family:&quot;Liberation Serif&quot;,serif;font-size:10.6px">well</text>
<text x="380.00" y="760.88" style="font-family:&quot;Liberation Serif&quot;,serif;font-size:10.6px" text-anchor="end">established.</text>
<text x="109.20" y="774.44" style="font-family:&quot;Liberation Serif&quot;,serif;font-size:10.6px">Some</text>
<text x="136.79" y="774.44" style="font-family:&quot;Liberation Serif&quot;,serif;font-size:10.6px">users</text>
<text x="162.02" y="774.44" style="font-family:&quot;Liberation Serif&quot;,serif;font-size:10.6px">trip</text>
<text x="180.18" y="774.44" style="font-family:&quot;Liberation Serif&quot;,serif;font-size:10.6px">while</text>
<text x="207.17" y="774.44" style="font-family:&quot;Liberation Serif&quot;,serif;font-size:10.6px">others</text>
<text x="236.52" y="774.44" style="font-family:&quot;Liberation Serif&quot;,serif;font-size:10.6px">prefer</text>
<text x="265.27" y="774.44" style="font-family:&quot;Liberation Serif&quot;,serif;font-size:10.6px">to</text>
<text x="276.96" y="774.44" style="font-family:&quot;Liberation Serif&quot;,serif;font-size:10.6px">alarm,</text>
<text x="307.18" y="774.44" style="font-family:&quot;Liberation Serif&quot;,serif;font-size:10.6px">thereby</text>
<text x="342.41" y="774.44" style="font-family:&quot;Liberation Serif&quot;,serif;font-size:10.6px">risking</text>
<text x="380.00" y="774.44" style="font-family:&quot;Liberation Serif&quot;,serif;font-size:10.6px" text-anchor="end">a</text>
<text x="109.20" y="788.00" style="font-family:&quot;Liberation Serif&quot;,serif;font-size:10.6px">second</text>
<text x="142.17" y="788.00" style="font-family:&quot;Liberation Serif&quot;,serif;font-size:10.6px">ground</text>
<text x="175.73" y="788.00" style="font-family:&quot;Liberation Serif&quot;,serif;font-size:10.6px">fault</text>
<text x="198.69" y="788.00" style="font-family:&quot;Liberation Serif&quot;,serif;font-size:10.6px">and</text>
<text x="217.53" y="788.00" style="font-family:&quot;Liberation Serif&quot;,serif;font-size:10.6px">major</text>
<text x="245.78" y="788.00" style="font-family:&quot;Liberation Serif&quot;,serif;font-size:10.6px">damage</text>
<text x="282.28" y="788.00" style="font-family:&quot;Liberation Serif&quot;,serif;font-size:10.6px">before</text>
<text x="312.88" y="788.00" style="font-family:&quot;Liberation Serif&quot;,serif;font-size:10.6px">the</text>
<text x="329.36" y="788.00" style="font-family:&quot;Liberation Serif&quot;,serif;font-size:10.6px">first</text>
<text x="380.00" y="788.00" style="font-family:&quot;Liberation Serif&quot;,serif;font-size:10.6px" text-anchor="end">ground</text>
<text x="109.20" y="801.56" style="font-family:&quot;Liberation Serif&quot;,serif;font-size:10.6px">is</text>
<text x="119.13" y="801.56" style="font-family:&quot;Liberation Serif&quot;,serif;font-size:10.6px">cleared.</text>
<text x="155.23" y="801.56" style="font-family:&quot;Liberation Serif&quot;,serif;font-size:10.6px">The</text>
<text x="174.56" y="801.56" style="font-family:&quot;Liberation Serif&quot;,serif;font-size:10.6px">existing</text>
<text x="210.98" y="801.56" style="font-family:&quot;Liberation Serif&quot;,serif;font-size:10.6px">practice</text>
<text x="247.38" y="801.56" style="font-family:&quot;Liberation Serif&quot;,serif;font-size:10.6px">within</text>
<text x="277.32" y="801.56" style="font-family:&quot;Liberation Serif&quot;,serif;font-size:10.6px">the</text>
<text x="293.13" y="801.56" style="font-family:&quot;Liberation Serif&quot;,serif;font-size:10.6px">industry</text>
<text x="330.73" y="801.56" style="font-family:&quot;Liberation Serif&quot;,serif;font-size:10.6px">had</text>
<text x="348.89" y="801.56" style="font-family:&quot;Liberation Serif&quot;,serif;font-size:10.6px">been</text>
<text x="380.00" y="801.56" style="font-family:&quot;Liberation Serif&quot;,serif;font-size:10.6px" text-anchor="end">to</text>
<text x="109.20" y="815.12" style="font-family:&quot;Liberation Serif&quot;,serif;font-size:10.6px">use</text>
<text x="128.47" y="815.12" style="font-family:&quot;Liberation Serif&quot;,serif;font-size:10.6px">dc</text>
<text x="143.61" y="815.12" style="font-family:&quot;Liberation Serif&quot;,serif;font-size:10.6px">voltage</text>
<text x="179.94" y="815.12" style="font-family:&quot;Liberation Serif&quot;,serif;font-size:10.6px">relaying</text>
<text x="219.81" y="815.12" style="font-family:&quot;Liberation Serif&quot;,serif;font-size:10.6px">to</text>
<text x="233.19" y="815.12" style="font-family:&quot;Liberation Serif&quot;,serif;font-size:10.6px">detect</text>
<text x="263.63" y="815.12" style="font-family:&quot;Liberation Serif&quot;,serif;font-size:10.6px">field</text>
<text x="288.19" y="815.12" style="font-family:&quot;Liberation Serif&quot;,serif;font-size:10.6px">ground</text>
<text x="323.35" y="815.12" style="font-family:&quot;Liberation Serif&quot;,serif;font-size:10.6px">faults.</text>
<text x="380.00" y="815.12" style="font-family:&quot;Liberation Serif&quot;,serif;font-size:10.6px" text-anchor="end">These</text>
<text x="109.20" y="828.68" style="font-family:&quot;Liberation Serif&quot;,serif;font-size:10.6px" textLength="185.50" lengthAdjust="spacing">schemes are illustrated in Fig. 2 and Fig. 3.</text>
<text x="119.60" y="853.40" style="font-family:&quot;Liberation Serif&quot;,serif;font-size:10.6px">In</text>
<text x="131.78" y="853.40" style="font-family:&quot;Liberation Serif&quot;,serif;font-size:10.6px">the</text>
<text x="148.08" y="853.40" style="font-family:&quot;Liberation Serif&quot;,serif;font-size:10.6px">method</text>
<text x="183.23" y="853.40" style="font-family:&quot;Liberation Serif&quot;,serif;font-size:10.6px">shown</text>
<text x="214.26" y="853.40" style="font-family:&quot;Liberation Serif&quot;,serif;font-size:10.6px">in</text>
<text x="225.85" y="853.40" style="font-family:&quot;Liberation Serif&quot;,serif;font-size:10.6px">Fig.</text>
<text x="245.99" y="853.40" style="font-family:&quot;Liberation Serif&quot;,serif;font-size:10.6px">2,</text>
<text x="257.29" y="853.40" style="font-family:&quot;Liberation Serif&quot;,serif;font-size:10.6px">a</text>
<text x="265.35" y="853.40" style="font-family:&quot;Liberation Serif&quot;,serif;font-size:10.6px">dc</text>
<text x="278.70" y="853.40" style="font-family:&quot;Liberation Serif&quot;,serif;font-size:10.6px">voltage</text>
<text x="313.25" y="853.40" style="font-family:&quot;Liberation Serif&quot;,serif;font-size:10.6px">source</text>
<text x="344.27" y="853.40" style="font-family:&quot;Liberation Serif&quot;,serif;font-size:10.6px">in</text>
<text x="380.00" y="853.40" style="font-family:&quot;Liberation Serif&quot;,serif;font-size:10.6px" text-anchor="end">series</text>
<text x="109.20" y="867.00" style="font-family:&quot;Liberation Serif&quot;,serif;font-size:10.6px">with</text>
<text x="131.71" y="867.00" style="font-family:&quot;Liberation Serif&quot;,serif;font-size:10.6px">an</text>
<text x="145.38" y="867.00" style="font-family:&quot;Liberation Serif&quot;,serif;font-size:10.6px">overvoltage</text>
<text x="199.08" y="867.00" style="font-family:&quot;Liberation Serif&quot;,serif;font-size:10.6px">relay</text>
<text x="223.93" y="867.00" style="font-family:&quot;Liberation Serif&quot;,serif;font-size:10.6px">coil</text>
<text x="243.50" y="867.00" style="font-family:&quot;Liberation Serif&quot;,serif;font-size:10.6px">is</text>
<text x="254.23" y="867.00" style="font-family:&quot;Liberation Serif&quot;,serif;font-size:10.6px">connected</text>
<text x="300.86" y="867.00" style="font-family:&quot;Liberation Serif&quot;,serif;font-size:10.6px">between</text>
<text x="339.84" y="867.00" style="font-family:&quot;Liberation Serif&quot;,serif;font-size:10.6px">the</text>
<text x="380.00" y="867.00" style="font-family:&quot;Liberation Serif&quot;,serif;font-size:10.6px" text-anchor="end">nega-</text>
<text x="109.20" y="880.60" style="font-family:&quot;Liberation Serif&quot;,serif;font-size:10.6px">tive</text>
<text x="128.71" y="880.60" style="font-family:&quot;Liberation Serif&quot;,serif;font-size:10.6px">side</text>
<text x="149.41" y="880.60" style="font-family:&quot;Liberation Serif&quot;,serif;font-size:10.6px">of</text>
<text x="161.86" y="880.60" style="font-family:&quot;Liberation Serif&quot;,serif;font-size:10.6px">the</text>
<text x="178.43" y="880.60" style="font-family:&quot;Liberation Serif&quot;,serif;font-size:10.6px">generator</text>
<text x="222.06" y="880.60" style="font-family:&quot;Liberation Serif&quot;,serif;font-size:10.6px">field</text>
<text x="245.11" y="880.60" style="font-family:&quot;Liberation Serif&quot;,serif;font-size:10.6px">winding</text>
<text x="283.47" y="880.60" style="font-family:&quot;Liberation Serif&quot;,serif;font-size:10.6px">and</text>
<text x="302.40" y="880.60" style="font-family:&quot;Liberation Serif&quot;,serif;font-size:10.6px">ground.</text>
<text x="338.70" y="880.60" style="font-family:&quot;Liberation Serif&quot;,serif;font-size:10.6px">A</text>
<text x="380.00" y="880.60" style="font-family:&quot;Liberation Serif&quot;,serif;font-size:10.6px" text-anchor="end">ground</text>
<text x="396.50" y="440.30" style="font-family:&quot;Liberation Serif&quot;,serif;font-size:10.6px">anywhere</text>
<text x="440.65" y="440.30" style="font-family:&quot;Liberation Serif&quot;,serif;font-size:10.6px">in</text>
<text x="451.85" y="440.30" style="font-family:&quot;Liberation Serif&quot;,serif;font-size:10.6px">the</text>
<text x="467.76" y="440.30" style="font-family:&quot;Liberation Serif&quot;,serif;font-size:10.6px">field</text>
<text x="490.14" y="440.30" style="font-family:&quot;Liberation Serif&quot;,serif;font-size:10.6px">will</text>
<text x="509.58" y="440.30" style="font-family:&quot;Liberation Serif&quot;,serif;font-size:10.6px">cause</text>
<text x="536.07" y="440.30" style="font-family:&quot;Liberation Serif&quot;,serif;font-size:10.6px">the</text>
<text x="551.98" y="440.30" style="font-family:&quot;Liberation Serif&quot;,serif;font-size:10.6px">relay</text>
<text x="576.12" y="440.30" style="font-family:&quot;Liberation Serif&quot;,serif;font-size:10.6px">to</text>
<text x="587.32" y="440.30" style="font-family:&quot;Liberation Serif&quot;,serif;font-size:10.6px">operate.</text>
<text x="624.11" y="440.30" style="font-family:&quot;Liberation Serif&quot;,serif;font-size:10.6px">A</text>
<text x="634.72" y="440.30" style="font-family:&quot;Liberation Serif&quot;,serif;font-size:10.6px">brush</text>
<text x="668.30" y="440.30" style="font-family:&quot;Liberation Serif&quot;,serif;font-size:10.6px" text-anchor="end">is</text>
<text x="396.50" y="453.75" style="font-family:&quot;Liberation Serif&quot;,serif;font-size:10.6px">used</text>
<text x="420.14" y="453.75" style="font-family:&quot;Liberation Serif&quot;,serif;font-size:10.6px">to</text>
<text x="432.60" y="453.75" style="font-family:&quot;Liberation Serif&quot;,serif;font-size:10.6px">ground</text>
<text x="466.84" y="453.75" style="font-family:&quot;Liberation Serif&quot;,serif;font-size:10.6px">the</text>
<text x="484.00" y="453.75" style="font-family:&quot;Liberation Serif&quot;,serif;font-size:10.6px">rotor</text>
<text x="508.81" y="453.75" style="font-family:&quot;Liberation Serif&quot;,serif;font-size:10.6px">shaft</text>
<text x="533.63" y="453.75" style="font-family:&quot;Liberation Serif&quot;,serif;font-size:10.6px">since</text>
<text x="559.62" y="453.75" style="font-family:&quot;Liberation Serif&quot;,serif;font-size:10.6px">the</text>
<text x="576.78" y="453.75" style="font-family:&quot;Liberation Serif&quot;,serif;font-size:10.6px">bearing</text>
<text x="612.77" y="453.75" style="font-family:&quot;Liberation Serif&quot;,serif;font-size:10.6px">oil</text>
<text x="628.17" y="453.75" style="font-family:&quot;Liberation Serif&quot;,serif;font-size:10.6px">film</text>
<text x="668.30" y="453.75" style="font-family:&quot;Liberation Serif&quot;,serif;font-size:10.6px" text-anchor="end">may</text>
<text x="396.50" y="467.20" style="font-family:&quot;Liberation Serif&quot;,serif;font-size:10.6px">insert</text>
<text x="424.15" y="467.20" style="font-family:&quot;Liberation Serif&quot;,serif;font-size:10.6px">enough</text>
<text x="459.46" y="467.20" style="font-family:&quot;Liberation Serif&quot;,serif;font-size:10.6px">resistance</text>
<text x="505.35" y="467.20" style="font-family:&quot;Liberation Serif&quot;,serif;font-size:10.6px">in</text>
<text x="517.70" y="467.20" style="font-family:&quot;Liberation Serif&quot;,serif;font-size:10.6px">the</text>
<text x="534.75" y="467.20" style="font-family:&quot;Liberation Serif&quot;,serif;font-size:10.6px">circuit</text>
<text x="565.93" y="467.20" style="font-family:&quot;Liberation Serif&quot;,serif;font-size:10.6px">so</text>
<text x="579.46" y="467.20" style="font-family:&quot;Liberation Serif&quot;,serif;font-size:10.6px">that</text>
<text x="599.46" y="467.20" style="font-family:&quot;Liberation Serif&quot;,serif;font-size:10.6px">the</text>
<text x="616.51" y="467.20" style="font-family:&quot;Liberation Serif&quot;,serif;font-size:10.6px">relay</text>
<text x="668.30" y="467.20" style="font-family:&quot;Liberation Serif&quot;,serif;font-size:10.6px" text-anchor="end">would</text>
<text x="396.50" y="480.65" style="font-family:&quot;Liberation Serif&quot;,serif;font-size:10.6px">not</text>
<text x="414.55" y="480.65" style="font-family:&quot;Liberation Serif&quot;,serif;font-size:10.6px">operate</text>
<text x="450.25" y="480.65" style="font-family:&quot;Liberation Serif&quot;,serif;font-size:10.6px">for</text>
<text x="467.12" y="480.65" style="font-family:&quot;Liberation Serif&quot;,serif;font-size:10.6px">a</text>
<text x="476.33" y="480.65" style="font-family:&quot;Liberation Serif&quot;,serif;font-size:10.6px">field</text>
<text x="500.26" y="480.65" style="font-family:&quot;Liberation Serif&quot;,serif;font-size:10.6px">ground.</text>
<text x="537.45" y="480.65" style="font-family:&quot;Liberation Serif&quot;,serif;font-size:10.6px">One</text>
<text x="559.61" y="480.65" style="font-family:&quot;Liberation Serif&quot;,serif;font-size:10.6px">to</text>
<text x="572.37" y="480.65" style="font-family:&quot;Liberation Serif&quot;,serif;font-size:10.6px">three</text>
<text x="598.06" y="480.65" style="font-family:&quot;Liberation Serif&quot;,serif;font-size:10.6px">seconds</text>
<text x="636.12" y="480.65" style="font-family:&quot;Liberation Serif&quot;,serif;font-size:10.6px">of</text>
<text x="668.30" y="480.65" style="font-family:&quot;Liberation Serif&quot;,serif;font-size:10.6px" text-anchor="end">time</text>
<text x="396.50" y="494.10" style="font-family:&quot;Liberation Serif&quot;,serif;font-size:10.6px">delay</text>
<text x="423.45" y="494.10" style="font-family:&quot;Liberation Serif&quot;,serif;font-size:10.6px">is</text>
<text x="434.52" y="494.10" style="font-family:&quot;Liberation Serif&quot;,serif;font-size:10.6px">normally</text>
<text x="476.78" y="494.10" style="font-family:&quot;Liberation Serif&quot;,serif;font-size:10.6px">used</text>
<text x="500.21" y="494.10" style="font-family:&quot;Liberation Serif&quot;,serif;font-size:10.6px">with</text>
<text x="523.05" y="494.10" style="font-family:&quot;Liberation Serif&quot;,serif;font-size:10.6px">this</text>
<text x="542.36" y="494.10" style="font-family:&quot;Liberation Serif&quot;,serif;font-size:10.6px">relay</text>
<text x="567.54" y="494.10" style="font-family:&quot;Liberation Serif&quot;,serif;font-size:10.6px">in</text>
<text x="579.79" y="494.10" style="font-family:&quot;Liberation Serif&quot;,serif;font-size:10.6px">order</text>
<text x="606.15" y="494.10" style="font-family:&quot;Liberation Serif&quot;,serif;font-size:10.6px">to</text>
<text x="618.39" y="494.10" style="font-family:&quot;Liberation Serif&quot;,serif;font-size:10.6px">prevent</text>
<text x="668.30" y="494.10" style="font-family:&quot;Liberation Serif&quot;,serif;font-size:10.6px" text-anchor="end">un-</text>
<text x="396.50" y="507.55" style="font-family:&quot;Liberation Serif&quot;,serif;font-size:10.6px">necessary</text>
<text x="445.32" y="507.55" style="font-family:&quot;Liberation Serif&quot;,serif;font-size:10.6px">operations</text>
<text x="497.09" y="507.55" style="font-family:&quot;Liberation Serif&quot;,serif;font-size:10.6px">for</text>
<text x="517.07" y="507.55" style="font-family:&quot;Liberation Serif&quot;,serif;font-size:10.6px">momentary</text>
<text x="572.97" y="507.55" style="font-family:&quot;Liberation Serif&quot;,serif;font-size:10.6px">transitory</text>
<text x="668.30" y="507.55" style="font-family:&quot;Liberation Serif&quot;,serif;font-size:10.6px" text-anchor="end">unbalances</text>
<text x="396.50" y="521.00" style="font-family:&quot;Liberation Serif&quot;,serif;font-size:10.6px">of</text>
<text x="409.79" y="521.00" style="font-family:&quot;Liberation Serif&quot;,serif;font-size:10.6px">the</text>
<text x="427.20" y="521.00" style="font-family:&quot;Liberation Serif&quot;,serif;font-size:10.6px">field</text>
<text x="451.09" y="521.00" style="font-family:&quot;Liberation Serif&quot;,serif;font-size:10.6px">circuit</text>
<text x="482.62" y="521.00" style="font-family:&quot;Liberation Serif&quot;,serif;font-size:10.6px">with</text>
<text x="505.93" y="521.00" style="font-family:&quot;Liberation Serif&quot;,serif;font-size:10.6px">respect</text>
<text x="540.41" y="521.00" style="font-family:&quot;Liberation Serif&quot;,serif;font-size:10.6px">to</text>
<text x="553.11" y="521.00" style="font-family:&quot;Liberation Serif&quot;,serif;font-size:10.6px">ground.</text>
<text x="590.25" y="521.00" style="font-family:&quot;Liberation Serif&quot;,serif;font-size:10.6px">These</text>
<text x="668.30" y="521.00" style="font-family:&quot;Liberation Serif&quot;,serif;font-size:10.6px" text-anchor="end">momentary</text>
<text x="396.50" y="534.45" style="font-family:&quot;Liberation Serif&quot;,serif;font-size:10.6px">unbalances</text>
<text x="448.17" y="534.45" style="font-family:&quot;Liberation Serif&quot;,serif;font-size:10.6px">may</text>
<text x="471.00" y="534.45" style="font-family:&quot;Liberation Serif&quot;,serif;font-size:10.6px">be</text>
<text x="485.58" y="534.45" style="font-family:&quot;Liberation Serif&quot;,serif;font-size:10.6px">caused</text>
<text x="519.00" y="534.45" style="font-family:&quot;Liberation Serif&quot;,serif;font-size:10.6px">by</text>
<text x="534.18" y="534.45" style="font-family:&quot;Liberation Serif&quot;,serif;font-size:10.6px">the</text>
<text x="551.71" y="534.45" style="font-family:&quot;Liberation Serif&quot;,serif;font-size:10.6px">operation</text>
<text x="596.32" y="534.45" style="font-family:&quot;Liberation Serif&quot;,serif;font-size:10.6px">of</text>
<text x="668.30" y="534.45" style="font-family:&quot;Liberation Serif&quot;,serif;font-size:10.6px" text-anchor="end">fast-response,</text>
<text x="396.50" y="547.90" style="font-family:&quot;Liberation Serif&quot;,serif;font-size:10.6px" textLength="147.70" lengthAdjust="spacing">thyristor-type excitation systems.</text>
<text x="407.40" y="574.60" style="font-family:&quot;Liberation Serif&quot;,serif;font-size:10.6px">Fig.</text>
<text x="427.41" y="574.60" style="font-family:&quot;Liberation Serif&quot;,serif;font-size:10.6px">3</text>
<text x="435.93" y="574.60" style="font-family:&quot;Liberation Serif&quot;,serif;font-size:10.6px">illustrates</text>
<text x="480.36" y="574.60" style="font-family:&quot;Liberation Serif&quot;,serif;font-size:10.6px">a</text>
<text x="488.28" y="574.60" style="font-family:&quot;Liberation Serif&quot;,serif;font-size:10.6px">second</text>
<text x="520.94" y="574.60" style="font-family:&quot;Liberation Serif&quot;,serif;font-size:10.6px">method</text>
<text x="555.95" y="574.60" style="font-family:&quot;Liberation Serif&quot;,serif;font-size:10.6px">used</text>
<text x="578.60" y="574.60" style="font-family:&quot;Liberation Serif&quot;,serif;font-size:10.6px">to</text>
<text x="590.06" y="574.60" style="font-family:&quot;Liberation Serif&quot;,serif;font-size:10.6px">detect</text>
<text x="618.58" y="574.60" style="font-family:&quot;Liberation Serif&quot;,serif;font-size:10.6px">field</text>
<text x="668.30" y="574.60" style="font-family:&quot;Liberation Serif&quot;,serif;font-size:10.6px" text-anchor="end">circuit</text>
<text x="396.50" y="588.05" style="font-family:&quot;Liberation Serif&quot;,serif;font-size:10.6px">grounds.</text>
<text x="439.01" y="588.05" style="font-family:&quot;Liberation Serif&quot;,serif;font-size:10.6px">It</text>
<text x="451.18" y="588.05" style="font-family:&quot;Liberation Serif&quot;,serif;font-size:10.6px">is</text>
<text x="463.95" y="588.05" style="font-family:&quot;Liberation Serif&quot;,serif;font-size:10.6px">similar</text>
<text x="499.09" y="588.05" style="font-family:&quot;Liberation Serif&quot;,serif;font-size:10.6px">to</text>
<text x="513.04" y="588.05" style="font-family:&quot;Liberation Serif&quot;,serif;font-size:10.6px">ground</text>
<text x="548.77" y="588.05" style="font-family:&quot;Liberation Serif&quot;,serif;font-size:10.6px">detection</text>
<text x="593.32" y="588.05" style="font-family:&quot;Liberation Serif&quot;,serif;font-size:10.6px">schemes</text>
<text x="634.92" y="588.05" style="font-family:&quot;Liberation Serif&quot;,serif;font-size:10.6px">used</text>
<text x="668.30" y="588.05" style="font-family:&quot;Liberation Serif&quot;,serif;font-size:10.6px" text-anchor="end">to</text>
<text x="396.50" y="601.50" style="font-family:&quot;Liberation Serif&quot;,serif;font-size:10.6px">sense</text>
<text x="425.44" y="601.50" style="font-family:&quot;Liberation Serif&quot;,serif;font-size:10.6px">grounds</text>
<text x="465.58" y="601.50" style="font-family:&quot;Liberation Serif&quot;,serif;font-size:10.6px">on</text>
<text x="482.16" y="601.50" style="font-family:&quot;Liberation Serif&quot;,serif;font-size:10.6px">substation</text>
<text x="531.13" y="601.50" style="font-family:&quot;Liberation Serif&quot;,serif;font-size:10.6px">control</text>
<text x="567.14" y="601.50" style="font-family:&quot;Liberation Serif&quot;,serif;font-size:10.6px">batteries.</text>
<text x="611.68" y="601.50" style="font-family:&quot;Liberation Serif&quot;,serif;font-size:10.6px">This</text>
<text x="668.30" y="601.50" style="font-family:&quot;Liberation Serif&quot;,serif;font-size:10.6px" text-anchor="end">method</text>
<text x="396.50" y="614.95" style="font-family:&quot;Liberation Serif&quot;,serif;font-size:10.6px">uses</text>
<text x="422.17" y="614.95" style="font-family:&quot;Liberation Serif&quot;,serif;font-size:10.6px">a</text>
<text x="434.28" y="614.95" style="font-family:&quot;Liberation Serif&quot;,serif;font-size:10.6px">voltage</text>
<text x="472.89" y="614.95" style="font-family:&quot;Liberation Serif&quot;,serif;font-size:10.6px">divider</text>
<text x="510.33" y="614.95" style="font-family:&quot;Liberation Serif&quot;,serif;font-size:10.6px">and</text>
<text x="533.05" y="614.95" style="font-family:&quot;Liberation Serif&quot;,serif;font-size:10.6px">a</text>
<text x="545.16" y="614.95" style="font-family:&quot;Liberation Serif&quot;,serif;font-size:10.6px">sensitive</text>
<text x="589.67" y="614.95" style="font-family:&quot;Liberation Serif&quot;,serif;font-size:10.6px">overvoltage</text>
<text x="668.30" y="614.95" style="font-family:&quot;Liberation Serif&quot;,serif;font-size:10.6px" text-anchor="end">relay</text>
<text x="396.50" y="628.40" style="font-family:&quot;Liberation Serif&quot;,serif;font-size:10.6px">between</text>
<text x="434.99" y="628.40" style="font-family:&quot;Liberation Serif&quot;,serif;font-size:10.6px">the</text>
<text x="451.12" y="628.40" style="font-family:&quot;Liberation Serif&quot;,serif;font-size:10.6px">divider</text>
<text x="484.32" y="628.40" style="font-family:&quot;Liberation Serif&quot;,serif;font-size:10.6px">midpoint</text>
<text x="525.77" y="628.40" style="font-family:&quot;Liberation Serif&quot;,serif;font-size:10.6px">and</text>
<text x="544.25" y="628.40" style="font-family:&quot;Liberation Serif&quot;,serif;font-size:10.6px">ground.</text>
<text x="580.11" y="628.40" style="font-family:&quot;Liberation Serif&quot;,serif;font-size:10.6px">A</text>
<text x="590.94" y="628.40" style="font-family:&quot;Liberation Serif&quot;,serif;font-size:10.6px">maximum</text>
<text x="668.30" y="628.40" style="font-family:&quot;Liberation Serif&quot;,serif;font-size:10.6px" text-anchor="end">voltage</text>
<text x="396.50" y="641.85" style="font-family:&quot;Liberation Serif&quot;,serif;font-size:10.6px">is</text>
<text x="407.04" y="641.85" style="font-family:&quot;Liberation Serif&quot;,serif;font-size:10.6px">impressed</text>
<text x="453.48" y="641.85" style="font-family:&quot;Liberation Serif&quot;,serif;font-size:10.6px">on</text>
<text x="467.55" y="641.85" style="font-family:&quot;Liberation Serif&quot;,serif;font-size:10.6px">the</text>
<text x="483.97" y="641.85" style="font-family:&quot;Liberation Serif&quot;,serif;font-size:10.6px">relay</text>
<text x="508.62" y="641.85" style="font-family:&quot;Liberation Serif&quot;,serif;font-size:10.6px">by</text>
<text x="522.69" y="641.85" style="font-family:&quot;Liberation Serif&quot;,serif;font-size:10.6px">a</text>
<text x="530.86" y="641.85" style="font-family:&quot;Liberation Serif&quot;,serif;font-size:10.6px">ground</text>
<text x="564.36" y="641.85" style="font-family:&quot;Liberation Serif&quot;,serif;font-size:10.6px">on</text>
<text x="578.42" y="641.85" style="font-family:&quot;Liberation Serif&quot;,serif;font-size:10.6px">either</text>
<text x="606.02" y="641.85" style="font-family:&quot;Liberation Serif&quot;,serif;font-size:10.6px">the</text>
<text x="622.44" y="641.85" style="font-family:&quot;Liberation Serif&quot;,serif;font-size:10.6px">positive</text>
<text x="668.30" y="641.85" style="font-family:&quot;Liberation Serif&quot;,serif;font-size:10.6px" text-anchor="end">or</text>
<text x="396.50" y="655.30" style="font-family:&quot;Liberation Serif&quot;,serif;font-size:10.6px">negative</text>
<text x="435.64" y="655.30" style="font-family:&quot;Liberation Serif&quot;,serif;font-size:10.6px">side</text>
<text x="455.95" y="655.30" style="font-family:&quot;Liberation Serif&quot;,serif;font-size:10.6px">of</text>
<text x="468.01" y="655.30" style="font-family:&quot;Liberation Serif&quot;,serif;font-size:10.6px">the</text>
<text x="484.20" y="655.30" style="font-family:&quot;Liberation Serif&quot;,serif;font-size:10.6px">field</text>
<text x="506.86" y="655.30" style="font-family:&quot;Liberation Serif&quot;,serif;font-size:10.6px">circuit.</text>
<text x="539.81" y="655.30" style="font-family:&quot;Liberation Serif&quot;,serif;font-size:10.6px">However,</text>
<text x="584.12" y="655.30" style="font-family:&quot;Liberation Serif&quot;,serif;font-size:10.6px">there</text>
<text x="608.54" y="655.30" style="font-family:&quot;Liberation Serif&quot;,serif;font-size:10.6px">is</text>
<text x="618.85" y="655.30" style="font-family:&quot;Liberation Serif&quot;,serif;font-size:10.6px">a</text>
<text x="626.79" y="655.30" style="font-family:&quot;Liberation Serif&quot;,serif;font-size:10.6px">null</text>
<text x="668.30" y="655.30" style="font-family:&quot;Liberation Serif&quot;,serif;font-size:10.6px" text-anchor="end">point</text>
<text x="456.80" y="409.00" style="font-family:&quot;Liberation Serif&quot;,serif;font-size:9.2px;stroke-width:0.12" textLength="20.70" lengthAdjust="spacingAndGlyphs">Fig. 1</text>
<text x="488.10" y="409.00" style="font-family:&quot;Liberation Serif&quot;,serif;font-size:9.2px;stroke-width:0.12" textLength="111.30" lengthAdjust="spacing">Basic Generator Field Circuit</text>
<text x="435.80" y="881.90" style="font-family:&quot;Liberation Serif&quot;,serif;font-size:9.0px;stroke-width:0.12" textLength="22.00" lengthAdjust="spacingAndGlyphs">Fig. 2</text>
<text x="466.60" y="881.90" style="font-family:&quot;Liberation Serif&quot;,serif;font-size:9.0px;stroke-width:0.12" textLength="160.80" lengthAdjust="spacing">Field Ground Detection Using a dc Source</text>
<text x="113.00" y="911.70" style="font-family:&quot;Liberation Serif&quot;,serif;font-size:8.5px;stroke-width:0.06" textLength="139.20" lengthAdjust="spacingAndGlyphs">0-7803-7482-7/02/$17.00 © 2002 IEEE.</text>
<text x="387.10" y="912.30" style="font-family:&quot;Liberation Sans&quot;,serif;font-size:9.5px" textLength="15.70" lengthAdjust="spacingAndGlyphs">126</text>
<rect x="137" y="82" width="1" height="1" fill="#000" stroke="none"/>
<rect x="540" y="692" width="1" height="1" fill="#000" stroke="none"/>
<rect x="72" y="497" width="1" height="1" fill="#555" stroke="none"/>
<rect x="656" y="335" width="1" height="1" fill="#666" stroke="none"/>
</g>
<g>
<path d="M443.5,288.5 H472.9" stroke="#111" fill="none" stroke-width="1.0"/>
<path d="M472.9,288.5 C474.5,285.14 476.9,284.3 479.9,284.3 L487.6,284.3 C490.6,284.3 492.1,286.82 492.8,287.9" stroke="#111" fill="none" stroke-width="1.0"/>
<path d="M493.8,288.5 H579.5" stroke="#111" fill="none" stroke-width="1.0"/>
<path d="M443.5,288.5 V318.4" stroke="#111" fill="none" stroke-width="1.0"/>
<circle cx="443.2" cy="328.95" r="10.5" fill="none" stroke="#111" stroke-width="1.0"/>
<path d="M443.5,339.4 V370.5 H472.6" stroke="#111" fill="none" stroke-width="1.0"/>
<path d="M472.6,370.5 C474.20000000000005,366.1 476.6,365.0 479.6,365.0 L488.3,365.0 C491.3,365.0 492.8,368.3 493.5,369.9" stroke="#111" fill="none" stroke-width="1.0"/>
<path d="M494.5,370.5 H612.5" stroke="#111" fill="none" stroke-width="1.0"/>
<line x1="443.1" y1="284.2" x2="447.8" y2="284.2" stroke="#111" stroke-width="1.1"/>
<line x1="445.4" y1="281.7" x2="445.4" y2="286.7" stroke="#111" stroke-width="1.1"/>
<line x1="442.8" y1="375.4" x2="445.2" y2="375.4" stroke="#111" stroke-width="0.9"/>
<rect x="524.5" y="285.0" width="8.00" height="7.50" fill="#111"/>
<rect x="525.0" y="366.5" width="8.00" height="8.00" fill="#111"/>
<line x1="528.5" y1="272.5" x2="528.5" y2="284.6" stroke="#111" stroke-width="0.9"/>
<polygon points="528.50,284.60 527.10,281.40 529.90,281.40" fill="#111"/>
<line x1="529.0" y1="386.5" x2="529.0" y2="374.6" stroke="#111" stroke-width="0.9"/>
<polygon points="529.00,374.60 530.40,377.80 527.60,377.80" fill="#111"/>
<text x="515.5" y="269.8" style="font-family:&quot;Liberation Sans&quot;,sans-serif;font-size:7.6px" fill="#000" stroke="#000" stroke-width="0.3" textLength="26.9" lengthAdjust="spacingAndGlyphs">BRUSH</text>
<text x="515.6" y="394.6" style="font-family:&quot;Liberation Sans&quot;,sans-serif;font-size:7.6px" fill="#000" stroke="#000" stroke-width="0.3" textLength="26.9" lengthAdjust="spacingAndGlyphs">BRUSH</text>
<path d="M515.6,326.5 H509.2" stroke="#111" fill="none" stroke-width="0.9"/>
<path d="M509.2,326.4 Q499,310 486.6,292.6" stroke="#111" fill="none" stroke-width="0.9"/>
<polygon points="486.40,292.40 490.09,294.62 487.54,296.55" fill="#111"/>
<path d="M509.2,326.4 L487.2,361.6" stroke="#111" fill="none" stroke-width="0.9"/>
<polygon points="487.20,361.60 487.96,357.36 490.67,359.05" fill="#111"/>
<text x="519.0" y="324.8" style="font-family:&quot;Liberation Sans&quot;,sans-serif;font-size:7.6px" fill="#000" stroke="#000" stroke-width="0.3" textLength="21.0" lengthAdjust="spacingAndGlyphs">FIELD</text>
<text x="519.0" y="332.6" style="font-family:&quot;Liberation Sans&quot;,sans-serif;font-size:7.6px" fill="#000" stroke="#000" stroke-width="0.3" textLength="36.3" lengthAdjust="spacingAndGlyphs">BREAKER</text>
<text x="396.9" y="330.8" style="font-family:&quot;Liberation Sans&quot;,sans-serif;font-size:8.6px" fill="#000" stroke="#000" stroke-width="0.3" textLength="33.4" lengthAdjust="spacingAndGlyphs">EXCITER</text>
<rect x="579.5" y="280.5" width="31.00" height="99.00" fill="none" stroke="#111" stroke-width="1.0"/>
<text x="584.6" y="278.1" style="font-family:&quot;Liberation Sans&quot;,sans-serif;font-size:7.6px" fill="#000" stroke="#000" stroke-width="0.3" textLength="20.4" lengthAdjust="spacingAndGlyphs">FIELD</text>
<line x1="579.5" y1="299.5" x2="610.5" y2="299.5" stroke="#111" stroke-width="1.0"/>
<line x1="579.5" y1="322.5" x2="610.5" y2="322.5" stroke="#111" stroke-width="1.0"/>
<line x1="579.5" y1="346.5" x2="610.5" y2="346.5" stroke="#111" stroke-width="1.0"/>
<path d="M610.5,287.0 C620.741,287.0 620.741,299.5 610.5,299.5" stroke="#111" fill="none" stroke-width="1.0"/>
<path d="M610.5,310.2 C620.741,310.2 620.741,322.5 610.5,322.5" stroke="#111" fill="none" stroke-width="1.0"/>
<path d="M610.5,334.2 C620.741,334.2 620.741,346.5 610.5,346.5" stroke="#111" fill="none" stroke-width="1.0"/>
<path d="M610.5,358.2 C620.741,358.2 620.741,370.5 610.5,370.5" stroke="#111" fill="none" stroke-width="1.0"/>
<path d="M579.5,299.5 C568.86,299.5 568.86,311.4 579.5,311.4" stroke="#111" fill="none" stroke-width="1.0"/>
<path d="M579.5,322.5 C568.86,322.5 568.86,334.8 579.5,334.8" stroke="#111" fill="none" stroke-width="1.0"/>
<path d="M579.5,346.5 C568.86,346.5 568.86,358.8 579.5,358.8" stroke="#111" fill="none" stroke-width="1.0"/>
<rect x="590.5" y="380.0" width="8.00" height="8.30" fill="#111"/>
<line x1="594.5" y1="388.2" x2="594.5" y2="404.0" stroke="#111" stroke-width="0.9"/>
<line x1="591.0" y1="403.5" x2="599.0" y2="403.5" stroke="#111" stroke-width="0.9"/>
<line x1="600.8" y1="390.5" x2="617.6" y2="390.5" stroke="#111" stroke-width="0.9"/>
<text x="620.6" y="388.9" style="font-family:&quot;Liberation Sans&quot;,sans-serif;font-size:7.6px" fill="#000" stroke="#000" stroke-width="0.3" textLength="47.2" lengthAdjust="spacingAndGlyphs">GROUNDING</text>
<text x="620.6" y="396.8" style="font-family:&quot;Liberation Sans&quot;,sans-serif;font-size:7.6px" fill="#000" stroke="#000" stroke-width="0.3" textLength="26.9" lengthAdjust="spacingAndGlyphs">BRUSH</text>
<path d="M445.5,699.5 H475.4" stroke="#111" fill="none" stroke-width="1.0"/>
<path d="M475.4,699.5 C477.0,695.58 479.4,694.6 482.4,694.6 L492.0,694.6 C495.0,694.6 496.5,697.54 497.2,698.9" stroke="#111" fill="none" stroke-width="1.0"/>
<path d="M498.4,699.5 H582.5" stroke="#111" fill="none" stroke-width="1.0"/>
<path d="M445.5,699.5 V729.5" stroke="#111" fill="none" stroke-width="1.0"/>
<circle cx="446.2" cy="739.6" r="10.1" fill="none" stroke="#111" stroke-width="1.0"/>
<path d="M445.5,749.7 V779.5 H475.0" stroke="#111" fill="none" stroke-width="1.0"/>
<path d="M475.0,779.5 C476.6,776.22 479.0,775.4 482.0,775.4 L492.3,775.4 C495.3,775.4 496.8,777.86 497.5,778.9" stroke="#111" fill="none" stroke-width="1.0"/>
<path d="M498.5,779.5 H613.5" stroke="#111" fill="none" stroke-width="1.0"/>
<line x1="445.9" y1="694.8" x2="450.5" y2="694.8" stroke="#111" stroke-width="1.1"/>
<line x1="448.2" y1="692.3" x2="448.2" y2="697.3" stroke="#111" stroke-width="1.1"/>
<line x1="446.6" y1="784.8" x2="448.8" y2="784.8" stroke="#111" stroke-width="0.9"/>
<rect x="527.0" y="695.5" width="7.60" height="8.60" fill="#111"/>
<line x1="531.5" y1="683.5" x2="531.5" y2="695.3" stroke="#111" stroke-width="0.9"/>
<polygon points="531.50,695.30 530.10,692.10 532.90,692.10" fill="#111"/>
<text x="518.2" y="681.0" style="font-family:&quot;Liberation Sans&quot;,sans-serif;font-size:7.6px" fill="#000" stroke="#000" stroke-width="0.3" textLength="26.9" lengthAdjust="spacingAndGlyphs">BRUSH</text>
<path d="M520.0,735.9 H513.2" stroke="#111" fill="none" stroke-width="0.9"/>
<path d="M513.2,735.9 Q502,718.5 488.9,703.3" stroke="#111" fill="none" stroke-width="0.9"/>
<polygon points="488.70,703.10 492.46,705.20 489.98,707.21" fill="#111"/>
<path d="M513.2,735.9 L490.4,772.3" stroke="#111" fill="none" stroke-width="0.9"/>
<polygon points="490.30,772.50 491.06,768.26 493.77,769.95" fill="#111"/>
<text x="521.7" y="735.3" style="font-family:&quot;Liberation Sans&quot;,sans-serif;font-size:7.6px" fill="#000" stroke="#000" stroke-width="0.3" textLength="21.6" lengthAdjust="spacingAndGlyphs">FIELD</text>
<text x="521.7" y="742.8" style="font-family:&quot;Liberation Sans&quot;,sans-serif;font-size:7.6px" fill="#000" stroke="#000" stroke-width="0.3" textLength="36.3" lengthAdjust="spacingAndGlyphs">BREAKER</text>
<text x="399.9" y="742.0" style="font-family:&quot;Liberation Sans&quot;,sans-serif;font-size:8.6px" fill="#000" stroke="#000" stroke-width="0.3" textLength="32.8" lengthAdjust="spacingAndGlyphs">EXCITER</text>
<path d="M582.5,788.5 V691.5 H612.5 V787.5 H591.2" stroke="#111" fill="none" stroke-width="1.0"/>
<text x="586.6" y="688.6" style="font-family:&quot;Liberation Sans&quot;,sans-serif;font-size:7.6px" fill="#000" stroke="#000" stroke-width="0.3" textLength="21.8" lengthAdjust="spacingAndGlyphs">FIELD</text>
<line x1="582.5" y1="710.0" x2="612.5" y2="710.0" stroke="#111" stroke-width="1.0"/>
<line x1="582.5" y1="732.0" x2="612.5" y2="732.0" stroke="#111" stroke-width="1.0"/>
<line x1="582.5" y1="756.0" x2="612.5" y2="756.0" stroke="#111" stroke-width="1.0"/>
<path d="M612.5,698.3 C622.874,698.3 622.874,710.0 612.5,710.0" stroke="#111" fill="none" stroke-width="1.0"/>
<path d="M612.5,720.8 C622.874,720.8 622.874,732.0 612.5,732.0" stroke="#111" fill="none" stroke-width="1.0"/>
<path d="M612.5,744.9 C622.874,744.9 622.874,756.0 612.5,756.0" stroke="#111" fill="none" stroke-width="1.0"/>
<path d="M612.5,768.6 C622.874,768.6 622.874,779.5 612.5,779.5" stroke="#111" fill="none" stroke-width="1.0"/>
<path d="M582.5,710.0 C572.126,710.0 572.126,722.2 582.5,722.2" stroke="#111" fill="none" stroke-width="1.0"/>
<path d="M582.5,732.0 C572.126,732.0 572.126,744.3 582.5,744.3" stroke="#111" fill="none" stroke-width="1.0"/>
<path d="M582.5,756.0 C572.126,756.0 572.126,767.8 582.5,767.8" stroke="#111" fill="none" stroke-width="1.0"/>
<rect x="551.5" y="776.0" width="8.20" height="8.40" fill="#111"/>
<line x1="542.6" y1="770.3" x2="551.8" y2="776.4" stroke="#111" stroke-width="0.9"/>
<text x="530.7" y="768.2" style="font-family:&quot;Liberation Sans&quot;,sans-serif;font-size:7.6px" fill="#000" stroke="#000" stroke-width="0.3" textLength="26.9" lengthAdjust="spacingAndGlyphs">BRUSH</text>
<rect x="593.2" y="789.3" width="7.60" height="8.20" fill="#111"/>
<line x1="597.5" y1="797.5" x2="597.5" y2="811.0" stroke="#111" stroke-width="0.9"/>
<line x1="593.8" y1="812.5" x2="600.6" y2="812.5" stroke="#111" stroke-width="0.9"/>
<line x1="595.0" y1="814.3" x2="599.4" y2="814.3" stroke="#111" stroke-width="0.9"/>
<line x1="596.4" y1="816.0" x2="598.0" y2="816.0" stroke="#111" stroke-width="0.9"/>
<line x1="621.5" y1="800.0" x2="602.6" y2="800.0" stroke="#111" stroke-width="0.9"/>
<polygon points="602.60,800.00 605.80,798.60 605.80,801.40" fill="#111"/>
<text x="623.7" y="798.4" style="font-family:&quot;Liberation Sans&quot;,sans-serif;font-size:7.6px" fill="#000" stroke="#000" stroke-width="0.3" textLength="47.3" lengthAdjust="spacingAndGlyphs">GROUNDING</text>
<text x="623.7" y="806.7" style="font-family:&quot;Liberation Sans&quot;,sans-serif;font-size:7.6px" fill="#000" stroke="#000" stroke-width="0.3" textLength="26.9" lengthAdjust="spacingAndGlyphs">BRUSH</text>
<line x1="535.5" y1="779.5" x2="535.5" y2="788.6" stroke="#111" stroke-width="0.9"/>
<circle cx="534.7" cy="798.2" r="9.5" fill="none" stroke="#111" stroke-width="1.0"/>
<text x="526.7" y="802.2" style="font-family:&quot;Liberation Sans&quot;,sans-serif;font-size:9.6px" fill="#000" stroke="#000" stroke-width="0.3" textLength="16.4" lengthAdjust="spacingAndGlyphs">64F</text>
<path d="M535.5,807.7 V825.5 H488.5" stroke="#111" fill="none" stroke-width="1.0"/>
<text x="542.2" y="813.4" style="font-family:&quot;Liberation Sans&quot;,sans-serif;font-size:7.2px" fill="#000" stroke="#000" stroke-width="0.3" textLength="34.4" lengthAdjust="spacingAndGlyphs">VOLTAGE</text>
<text x="542.2" y="821.4" style="font-family:&quot;Liberation Sans&quot;,sans-serif;font-size:7.2px" fill="#000" stroke="#000" stroke-width="0.3" textLength="23.8" lengthAdjust="spacingAndGlyphs">RELAY</text>
<rect x="466.5" y="810.5" width="22.00" height="48.00" fill="none" stroke="#111" stroke-width="1.0"/>
<text x="471.8" y="835.7" style="font-family:&quot;Liberation Sans&quot;,sans-serif;font-size:8.0px" fill="#000" stroke="#000" stroke-width="0.12" textLength="11.2" lengthAdjust="spacingAndGlyphs">DC</text>
<line x1="446.5" y1="825.5" x2="466.5" y2="825.5" stroke="#111" stroke-width="1.0"/>
<line x1="446.5" y1="841.5" x2="466.5" y2="841.5" stroke="#111" stroke-width="1.0"/>
<path d="M488.5,841.5 H535.5 V865.9" stroke="#111" fill="none" stroke-width="1.0"/>
<line x1="531.8" y1="866.0" x2="540.5" y2="866.0" stroke="#111" stroke-width="1.0"/>
<line x1="533.2" y1="868.2" x2="539.0" y2="868.2" stroke="#111" stroke-width="1.0"/>
<line x1="534.7" y1="870.3" x2="536.9" y2="870.3" stroke="#111" stroke-width="1.0"/>
</g>

</svg>
</body></html>
